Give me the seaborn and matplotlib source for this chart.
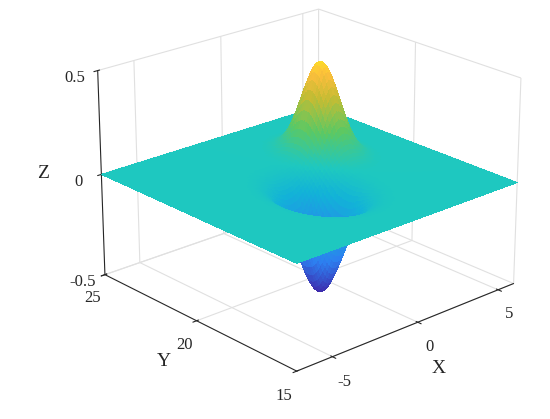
import numpy as np
import seaborn as sns
import matplotlib
matplotlib.use('Agg')
import matplotlib.pyplot as plt
from matplotlib.colors import LinearSegmentedColormap

sns.set_style('white')
plt.rcParams['font.family'] = ['Liberation Serif', 'DejaVu Serif']
plt.rcParams['axes.unicode_minus'] = False

# surface features: (x centre, y centre, amplitude, width)
peak_x = [2.0, -1.0]
peak_y = [21.5, 19.0]
peak_amp = [0.45, -0.5]
peak_width = [0.75, 0.9]
x_grid = np.linspace(-7, 6, 100)
y_grid = np.linspace(15, 25, 100)

X, Y = np.meshgrid(x_grid, y_grid)
Z = np.zeros_like(X)
for cx, cy, a, w in zip(peak_x, peak_y, peak_amp, peak_width):
    Z += a * np.exp(-((X - cx) ** 2 + (Y - cy) ** 2) / (2 * w ** 2))

parula = LinearSegmentedColormap.from_list('parula', [
    (0.0, '#3e26a8'), (0.2, '#2d7ff0'), (0.4, '#12b2d8'), (0.5, '#1ec8c0'),
    (0.65, '#5cc863'), (0.8, '#c5bc33'), (0.9, '#fdbe3c'), (1.0, '#f9fb15')])

fig = plt.figure(figsize=(5.5, 4.19), dpi=100)
ax = fig.add_axes([0.06, 0.04, 0.98, 1.04], projection='3d')
ax.plot_surface(X, Y, Z, cmap=parula, vmin=-0.5, vmax=0.5, linewidth=0,
                antialiased=False, rstride=1, cstride=1)
ax.set_xlim(-7, 6)
ax.set_ylim(15, 25)
ax.set_zlim(-0.5, 0.5)
ax.set_xticks([-5, 0, 5])
ax.set_yticks([15, 20, 25])
ax.set_zticks([-0.5, 0, 0.5])
ax.set_zticklabels(['-0.5', '0', '0.5'])
ax.set_xlabel('X', fontsize=14, labelpad=2)
ax.set_ylabel('Y', fontsize=14, labelpad=2)
ax.set_zlabel('Z', fontsize=14, labelpad=2)
ax.tick_params(labelsize=12, pad=1)
for a in (ax.xaxis, ax.yaxis, ax.zaxis):
    a.set_pane_color((1, 1, 1, 0))
    a._axinfo['grid']['color'] = (0.88, 0.88, 0.88, 1)
ax.view_init(elev=22, azim=-132)
ax.set_box_aspect((1, 1, 0.75), zoom=1.05)
plt.savefig('out.png', dpi=100)
